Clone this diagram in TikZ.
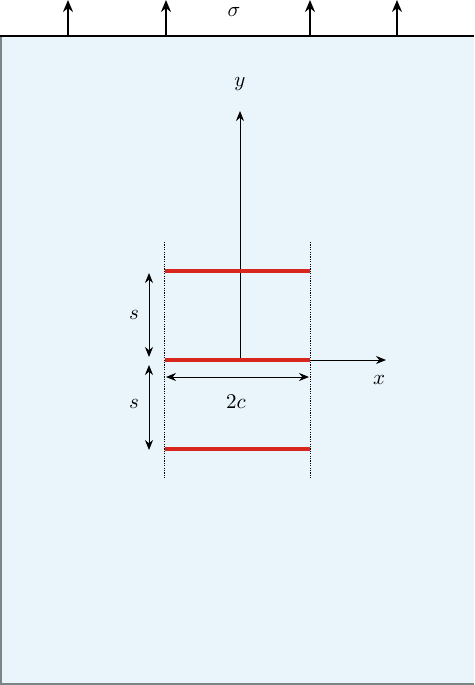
\documentclass[tikz,border=0pt]{standalone}
\usetikzlibrary{arrows.meta}
\definecolor{plate}{HTML}{E9F5FB}
\definecolor{edge}{HTML}{7A8585}
\definecolor{crack}{HTML}{D8261E}
\tikzset{
  load/.style={line width=2pt,-{Stealth[length=12pt,width=10pt]}},
  axis/.style={line width=1pt,-{Stealth[length=10pt,width=8pt]}},
  dim/.style={line width=1pt,{Stealth[length=10pt,width=8pt]}-{Stealth[length=10pt,width=8pt]}},
  crackline/.style={line width=4pt,crack},
  guide/.style={line width=0.9pt,dash pattern=on 1.2pt off 1.2pt},
  lbl/.style={scale=2.1,inner sep=0pt}
}
\begin{document}
\begin{tikzpicture}[x=1pt,y=-1pt]
\useasboundingbox (0,0) rectangle (474,685);
% plate
\fill[plate] (0,36) rectangle (474,685);
\draw[edge,line width=2.5pt] (1,36) -- (1,684) -- (474,684);
\draw[line width=1.6pt] (0,36) -- (474,36);
% load arrows
\foreach \i/\x in {1/68,2/166,3/310,4/397}{
  \coordinate (b\i) at (\x,36);
  \coordinate (t\i) at (\x,0);
  \draw[load] (b\i) -- (t\i);
}
\node[lbl] (sigma) at (234,12) {$\sigma$};
% cracks
\coordinate (c1l) at (165,271); \coordinate (c1r) at (310,271);
\coordinate (c2l) at (165,360); \coordinate (c2r) at (310,360);
\coordinate (c3l) at (165,449); \coordinate (c3r) at (310,449);
% guides
\coordinate (gl1) at (164,242); \coordinate (gl2) at (164,478);
\coordinate (gr1) at (310,242); \coordinate (gr2) at (310,478);
\draw[guide] (gl1) -- (gl2);
\draw[guide] (gr1) -- (gr2);
% y axis
\coordinate (o) at (240,360);
\coordinate (ytip) at (240,111);
\draw[axis] (o) -- (ytip);
\node[lbl] (ylab) at (240,84) {$y$};
% x axis
\coordinate (xtip) at (386,360);
\draw[axis] (c2r) -- (xtip);
\node[lbl] (xlab) at (379,380) {$x$};
\draw[crackline] (c1l) -- (c1r);
\draw[crackline] (c2l) -- (c2r);
\draw[crackline] (c3l) -- (c3r);
% s dims
\coordinate (s1a) at (149,273); \coordinate (s1b) at (149,357);
\coordinate (s2a) at (149,365); \coordinate (s2b) at (149,450);
\draw[dim] (s1a) -- (s1b);
\draw[dim] (s2a) -- (s2b);
\node[lbl] (s1) at (134,315) {$s$};
\node[lbl] (s2) at (134,404) {$s$};
% 2c dim
\coordinate (da) at (166,377); \coordinate (db) at (309,377);
\draw[dim] (da) -- (db);
\node[lbl] (twoc) at (236,402) {$2c$};
\end{tikzpicture}
\end{document}
